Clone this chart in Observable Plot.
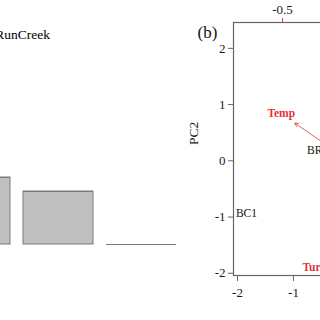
<!DOCTYPE html>
<html><head><meta charset="utf-8">
<script src="https://cdn.jsdelivr.net/npm/d3@7"></script>
<script src="https://cdn.jsdelivr.net/npm/@observablehq/plot@0.6"></script>
<style>
html,body{margin:0;padding:0;background:#fff;}
#wrap{position:relative;width:320px;height:320px;overflow:hidden;background:#fff;font-family:"Liberation Serif",serif;}
#left{position:absolute;left:-80px;top:0;width:263px;height:320px;}
#right{position:absolute;left:180px;top:0;width:260px;height:320px;}
#wrap svg{max-width:none !important;overflow:visible;}
#title{position:absolute;right:270px;top:27px;font-size:13.5px;white-space:nowrap;color:#000;}
</style></head>
<body>
<div id="wrap">
  <div id="left"></div>
  <div id="title">BearRunCreek</div>
  <div id="right"></div>
</div>
<script>
// Panel (a) bars (partially visible)
const sites = ["BC1", "BR1", "BR2"];
const barValues = [1.34, 1.06, 0];

// Panel (b) PCA biplot
const scoreLabels = ["BC1", "BR1"];
const scorePC1 = [-1.84, -0.57];
const scorePC2 = [-0.94, 0.18];
const varLabels = ["Temp", "Turb"];
const loadPC1 = [-0.51, -0.26];
const loadPC2 = [0.35, -0.79];
const loadScale = 2.39; // primary units per loading unit
const pcTicks = [-2, -1, 0, 1, 2];
const loadTicks = [-0.5, 0, 0.5];

const bars = sites.map((s, i) => ({site: s, value: barValues[i]}));
const left = Plot.plot({
  width: 263, height: 320,
  marginLeft: 13.5, marginRight: 0, marginTop: 44, marginBottom: 76,
  x: {domain: sites, paddingInner: 0.157, paddingOuter: 0.0785, axis: null},
  y: {domain: [0, 4], axis: null},
  marks: [
    Plot.barY(bars, {x: "site", y: "value", fill: "#c0c0c0", stroke: "#7a7a7a", strokeWidth: 1}),
    Plot.tickY(bars, {x: "site", y: "value", stroke: "#7a7a7a", strokeWidth: 1})
  ]
});
document.getElementById("left").appendChild(left);

const scores = scoreLabels.map((l, i) => ({label: l, x: scorePC1[i], y: scorePC2[i]}));
const loads = varLabels.map((l, i) => ({label: l, x: loadPC1[i] * loadScale, y: loadPC2[i] * loadScale}));
const red = "#e3343c";
const fmt = d => String(d).replace("−", "-");
const right = Plot.plot({
  width: 260, height: 320,
  marginLeft: 53, marginRight: 0, marginTop: 22, marginBottom: 45,
  style: {fontFamily: "Liberation Serif", fontSize: "13px", color: "#222", background: "transparent", maxWidth: "none"},
  x: {domain: [-2.071, 1.625]},
  y: {domain: [-2.04, 2.46]},
  marks: [
    Plot.frame({stroke: "#666", strokeWidth: 1.2}),
    Plot.axisY({ticks: pcTicks, tickFormat: fmt, tickSize: 5, tickPadding: 3, label: null, stroke: "#666", fontSize: 13, fill: "#1a1a1a"}),
    Plot.axisX({ticks: pcTicks, tickFormat: fmt, tickSize: 6, tickPadding: 6, label: null, stroke: "#666", anchor: "bottom", fontSize: 13, fill: "#1a1a1a"}),
    Plot.axisX({anchor: "top", ticks: loadTicks.map(t => t * loadScale), tickFormat: d => fmt(Math.round(d / loadScale * 100) / 100), tickSize: 5, tickPadding: 4, label: null, stroke: red, fontSize: 13, fill: "#1a1a1a"}),
    Plot.arrow(loads, {x1: () => 0, y1: () => 0, x2: d => d.x * 0.8, y2: d => d.y * 0.8, stroke: red, strokeWidth: 0.8, headLength: 7, bend: false}),
    Plot.text(loads, {x: "x", y: "y", text: "label", fill: red, fontWeight: "bold", fontSize: 11.5}),
    Plot.text(scores, {x: "x", y: "y", text: "label", fill: "#111", fontSize: 11.5}),
    Plot.text(["PC2"], {frameAnchor: "left", dx: -40, dy: -4, rotate: -90, text: d => d, fontSize: 13.5, fill: "#1a1a1a"}),
    Plot.text(["(b)"], {frameAnchor: "top-left", dx: -36, dy: 3, text: d => d, fontSize: 17, fill: "#111"})
  ]
});
right.querySelectorAll("text").forEach(t => { if (t.textContent.includes("−")) t.textContent = t.textContent.replace(/−/g, "-"); });
document.getElementById("right").appendChild(right);
</script>
</body></html>
